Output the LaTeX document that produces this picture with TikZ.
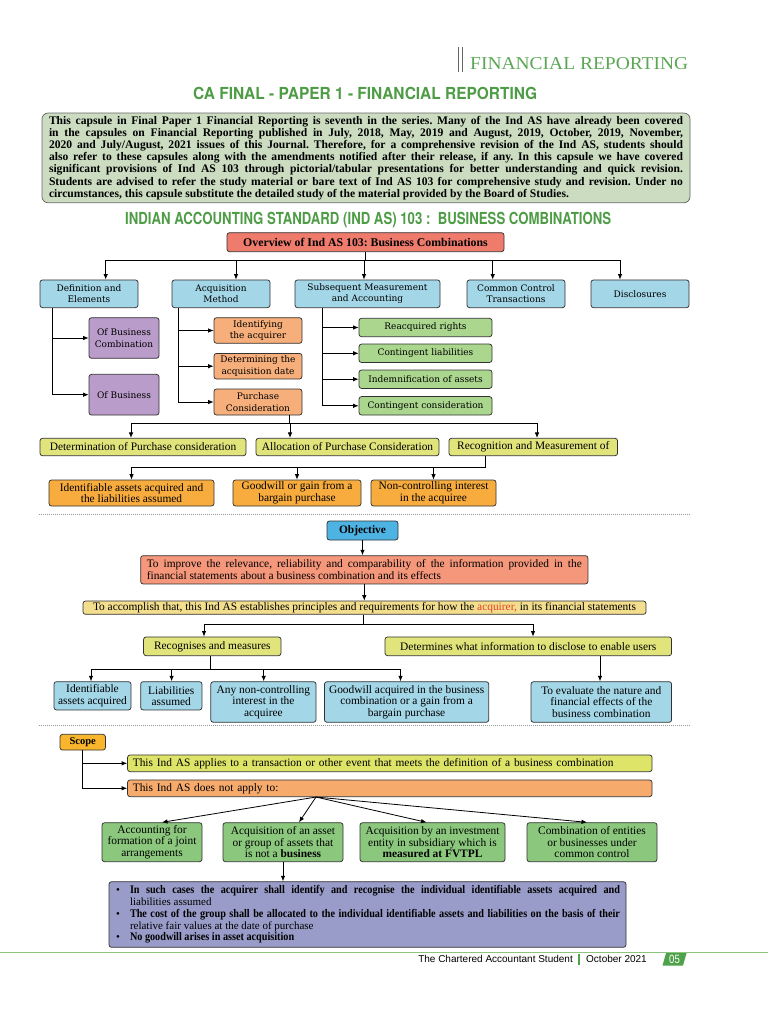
\documentclass[tikz,border=0pt]{standalone}
\usepackage{fontspec}
\usepackage{graphicx}
\setmainfont{Liberation Serif}
\newfontfamily\boxfont{DejaVu Serif}
\newfontfamily\headfont{TeX Gyre Heros}
\newfontfamily\footfont{Liberation Sans}
\newfontfamily\narrowserif[FakeStretch=0.88]{Liberation Serif}
\usetikzlibrary{arrows.meta}
\definecolor{ttgreen}{HTML}{4E9C46}
\definecolor{hdgreen}{HTML}{5BA755}
\definecolor{footgreen}{HTML}{8DC47D}
\definecolor{pagegreen}{HTML}{4EA24A}
\definecolor{introfill}{HTML}{CBDCC1}
\definecolor{ovrred}{HTML}{EF7B6C}
\definecolor{lblue}{HTML}{A3D6E7}
\definecolor{purp}{HTML}{B99CC9}
\definecolor{lorange}{HTML}{F6AE7B}
\definecolor{lgreen}{HTML}{AAD68E}
\definecolor{lyellow}{HTML}{E0E47B}
\definecolor{gorange}{HTML}{F8AC3E}
\definecolor{objblue}{HTML}{4DB3E2}
\definecolor{salmon}{HTML}{F5977B}
\definecolor{khaki}{HTML}{F2DE8D}
\definecolor{scopegold}{HTML}{F9B52C}
\definecolor{applylime}{HTML}{DDE468}
\definecolor{naorange}{HTML}{F6AB6D}
\definecolor{dgreen}{HTML}{8BC87D}
\definecolor{lavender}{HTML}{999CC8}
\definecolor{acqred}{HTML}{E8402A}
\tikzset{
  box/.style={draw=black!80, line width=0.75pt, rounded corners=2.5pt, inner sep=0pt, align=center, font=\fontsize{11.4}{11.7}\selectfont},
  tribox/.style={box, font=\fontsize{11.4}{11.3}\selectfont},
  topbox/.style={box, font=\boxfont\fontsize{9}{11.5}\selectfont},
  wh/.style 2 args={minimum width=#1, minimum height=#2},
  arr/.style={-{Latex[length=5.5pt,width=4.5pt]}, line width=0.8pt},
  sep/.style={black!40, line width=1pt, dash pattern=on 1pt off 1pt}
}
\frenchspacing
\begin{document}
\begin{tikzpicture}[x=1pt,y=-1pt]
\useasboundingbox (0,0) rectangle (768,1024);

\draw[black!60, line width=0.5pt] (458.3,47) -- (458.3,72) (462,47) -- (462,72);
\node[anchor=base west, inner sep=0pt, text=hdgreen] (hdr) at (470,69.3) {\resizebox{218pt}{12pt}{FINANCIAL REPORTING}};
\node[anchor=base west, inner sep=0pt, text=ttgreen] (catitle) at (193,100) {\headfont\bfseries\resizebox{344pt}{12.3pt}{CA FINAL - PAPER 1 - FINANCIAL REPORTING}};

\node[box, fill=introfill, draw=black!60, rounded corners=6pt, wh={648pt}{89.7pt}, text width=634pt, align=justify, font=\fontsize{11.6}{12.2}\selectfont\bfseries] (intro) at (366,157.9) {This capsule in Final Paper 1 Financial Reporting is seventh in the series. Many of the Ind AS have already been covered\linebreak in the capsules on Financial Reporting published in July, 2018, May, 2019 and August, 2019, October, 2019, November,\linebreak 2020 and July/August, 2021 issues of this Journal. Therefore, for a comprehensive revision of the Ind AS, students should\linebreak also refer to these capsules along with the amendments notified after their release, if any. In this capsule we have covered\linebreak significant provisions of Ind AS 103 through pictorial/tabular presentations for better understanding and quick revision.\linebreak Students are advised to refer the study material or bare text of Ind AS 103 for comprehensive study and revision. Under no\linebreak circumstances, this capsule substitute the detailed study of the material provided by the Board of Studies.};

\node[anchor=base west, inner sep=0pt, text=ttgreen] (istitle) at (125,224.5) {\headfont\bfseries\resizebox{486pt}{12.3pt}{INDIAN ACCOUNTING STANDARD (IND AS) 103 :\ \ BUSINESS COMBINATIONS}};

\node[box, fill=ovrred, wh={277pt}{19pt}, font=\fontsize{11.8}{12}\selectfont\bfseries] (ovr) at (365.5,242.2) {Overview of Ind AS 103: Business Combinations};

\node[topbox, fill=lblue, wh={98pt}{27.7pt}] (defel) at (89,293.8) {Definition and\\Elements};
\node[topbox, fill=lblue, wh={98pt}{27.7pt}] (acqm) at (221,293.8) {Acquisition\\Method};
\node[topbox, fill=lblue, wh={145pt}{27.7pt}] (subs) at (367.5,293.8) {Subsequent Measurement\\and Accounting};
\node[topbox, fill=lblue, wh={98pt}{27.7pt}] (comc) at (516,293.8) {Common Control\\Transactions};
\node[topbox, fill=lblue, wh={98pt}{27.7pt}] (discl) at (640,293.8) {Disclosures};
\foreach \t/\s in {defel/16.7, acqm/15, subs/-3.5, comc/-23.3, discl/-20}
  \draw[arr] (ovr.south) -- ++(0,8.3) -| ([xshift=\s]\t.north);

\node[topbox, fill=purp, wh={70pt}{40.6pt}] (ofbc) at (124,338) {Of Business\\Combination};
\node[topbox, fill=purp, wh={70pt}{40.7pt}] (ofb) at (124,394.7) {Of Business};
\draw[arr] ([xshift=13]defel.south west) |- (ofbc.west);
\draw[arr] ([xshift=13]defel.south west) |- (ofb.west);

\node[topbox, fill=lorange, wh={88pt}{25.6pt}] (ident) at (258,330.5) {Identifying\\the acquirer};
\node[topbox, fill=lorange, wh={88pt}{25.6pt}] (detdate) at (258,366.2) {Determining the\\acquisition date};
\node[topbox, fill=lorange, wh={88pt}{26pt}] (purch) at (258,402) {Purchase\\Consideration};
\foreach \t in {ident,detdate,purch}
  \draw[arr] ([xshift=7]acqm.south west) |- (\t.west);

\node[topbox, fill=lgreen, wh={133pt}{18.4pt}] (reacq) at (425.5,327.5) {Reacquired rights};
\node[topbox, fill=lgreen, wh={133pt}{18.4pt}] (contl) at (425.5,353.3) {Contingent liabilities};
\node[topbox, fill=lgreen, wh={133pt}{18.4pt}] (indem) at (425.5,379.2) {Indemnification of assets};
\node[topbox, fill=lgreen, wh={133pt}{18.4pt}] (contc) at (425.5,405.8) {Contingent consideration};
\foreach \t in {reacq,contl,indem,contc}
  \draw[arr] ([xshift=28]subs.south west) |- (\t.west);

\node[box, fill=lyellow, wh={206pt}{17.4pt}] (detpc) at (143,447) {Determination of Purchase consideration};
\node[box, fill=lyellow, wh={183pt}{17.4pt}] (allpc) at (347.5,447) {Allocation of Purchase Consideration};
\node[box, fill=lyellow, wh={168.6pt}{17.4pt}] (recm) at (533.3,447) {Recognition and Measurement of};
\foreach \t/\s in {detpc/-12, allpc/-57.5, recm/3.7}
  \draw[arr] ([xshift=31]purch.south) -- ++(0,8) -| ([xshift=\s]\t.north);

\node[box, fill=gorange, wh={165pt}{26pt}] (idas) at (131.5,493) {Identifiable assets acquired and\\the liabilities assumed};
\node[box, fill=gorange, wh={128pt}{26pt}] (gwb) at (297,493) {Goodwill or gain from a\\bargain purchase};
\node[box, fill=gorange, wh={125pt}{26pt}] (nci) at (433.5,493) {Non-controlling interest\\in the acquiree};
\foreach \t in {idas,gwb,nci}
  \draw[arr] ([xshift=-48.3]recm.south) -- ++(0,11.6) -| (\t.north);

\draw[sep] (39,514) -- (691,514);

\node[box, fill=objblue, wh={71pt}{19pt}, font=\fontsize{11.4}{12}\selectfont\bfseries] (obj) at (362.5,530.5) {Objective};
\node[box, fill=salmon, wh={447.3pt}{28.3pt}, text width=435pt, align=justify] (improve) at (364.3,569.8) {To improve the relevance, reliability and comparability of the information provided in the\linebreak financial statements about a business combination and its effects};
\draw[arr] (obj.south) -- (obj.south |- improve.north);
\node[box, fill=khaki, wh={563pt}{13.3pt}] (accomp) at (364.5,607.7) {To accomplish that, this Ind AS establishes principles and requirements for how the \textcolor{acqred}{acquirer,} in its financial statements};
\draw[arr] (improve.south) -- (improve.south |- accomp.north);

\node[box, fill=lyellow, wh={137.4pt}{18.7pt}] (recog) at (212.3,646.3) {Recognises and measures};
\node[box, fill=lyellow, wh={286.6pt}{18.7pt}] (determ) at (528.3,646.3) {Determines what information to disclose to enable users};
\draw[arr] ([xshift=-1.5]accomp.south) -- ++(0,9.7) -| ([xshift=-8.3]recog.north);
\draw[arr] ([xshift=-1.5]accomp.south) -- ++(0,9.7) -| ([xshift=4.7]determ.north);

\node[tribox, fill=lblue, wh={77pt}{28.3pt}] (idacq) at (92.5,695.8) {Identifiable\\assets acquired};
\node[tribox, fill=lblue, wh={61.3pt}{28.3pt}] (liab) at (171.3,695.8) {Liabilities\\assumed};
\node[tribox, fill=lblue, wh={105.2pt}{40.6pt}] (anynci) at (263.4,702) {Any non-controlling\\interest in the\\acquiree};
\node[tribox, fill=lblue, wh={164.2pt}{40.6pt}] (gwacq) at (406.6,702) {Goodwill acquired in the business\\combination or a gain from a\\bargain purchase};
\node[tribox, fill=lblue, wh={140.6pt}{40.6pt}] (toeval) at (601.3,702) {To evaluate the nature and\\financial effects of the\\business combination};
\foreach \t/\s in {idacq/-1.5, liab/0.3, anynci/0.3, gwacq/-6.1}
  \draw[arr] ([xshift=-2.3]recog.south) -- ++(0,13.3) -| ([xshift=\s]\t.north);
\draw[arr] ([xshift=71.7]determ.south) -- ([xshift=-1.3]toeval.north);

\draw[sep] (39,725.7) -- (691,725.7);

\node[box, fill=scopegold, wh={45.4pt}{15.7pt}, font=\fontsize{10.5}{11}\selectfont\bfseries] (scp) at (82.7,742.2) {Scope};
\node[box, fill=applylime, wh={524.5pt}{16.7pt}, text width=514pt, align=left] (applies) at (389.8,763.3) {This Ind AS applies to a transaction or other event that meets the definition of a business combination};
\node[box, fill=naorange, wh={524.5pt}{16.7pt}, text width=514pt, align=left] (notapp) at (389.8,788.3) {This Ind AS does not apply to:};
\draw[arr] (scp.south) |- (applies.west);
\draw[arr] (scp.south) |- (notapp.west);

\node[tribox, fill=dgreen, wh={100pt}{39pt}] (jarr) at (152,842.2) {Accounting for\\formation of a joint\\arrangements};
\node[tribox, fill=dgreen, wh={120pt}{39pt}] (asset) at (283,842.2) {Acquisition of an asset\\or group of assets that\\is not a \textbf{business}};
\node[tribox, fill=dgreen, wh={145pt}{39pt}] (invent) at (432.5,842.2) {Acquisition by an investment\\entity in subsidiary which is\\\textbf{measured at FVTPL}};
\node[tribox, fill=dgreen, wh={130pt}{39pt}] (comb) at (592,842.2) {Combination of entities\\or businesses under\\common control};
\foreach \t/\s in {jarr/10, asset/16, invent/-6, comb/-5}
  \draw[arr] ([xshift=-73.8]notapp.south) -- ([xshift=\s]\t.north);

\node[box, fill=lavender, wh={517pt}{65.6pt}, text width=505pt, align=justify, font=\fontsize{11}{11.8}\selectfont] (bullets) at (367.5,914.5) {%
\hangindent=15pt\hangafter=1\noindent\makebox[15pt][l]{\hspace{1pt}\textbullet}{\narrowserif\bfseries\fontsize{11.6}{11.8}\selectfont In such cases the acquirer shall identify and recognise the individual identifiable assets acquired and}\linebreak liabilities assumed\par
\hangindent=15pt\hangafter=1\noindent\makebox[15pt][l]{\hspace{1pt}\textbullet}{\narrowserif\bfseries\fontsize{11.6}{11.8}\selectfont The cost of the group shall be allocated to the individual identifiable assets and liabilities on the basis of their}\linebreak relative fair values at the date of purchase\par
\hangindent=15pt\hangafter=1\noindent\makebox[15pt][l]{\hspace{1pt}\textbullet}{\narrowserif\bfseries\fontsize{11.6}{11.8}\selectfont No goodwill arises in asset acquisition}\par};
\draw[arr] (asset.south) -- (asset.south |- bullets.north);

\draw[footgreen, line width=1.5pt] (0,952.5) -- (768,952.5);
\node[anchor=base east, inner sep=0pt, font=\footfont\fontsize{10}{11}\selectfont] (mag) at (573,962) {The Chartered Accountant Student};
\draw[pagegreen, line width=1.6pt] (579,953.5) -- (579,964.5);
\node[anchor=base west, inner sep=0pt, font=\footfont\fontsize{10}{11}\selectfont] (month) at (586,962) {October 2021};
\fill[pagegreen] (666,953.2) -- (686.5,953.2) -- (683,965.5) -- (662.5,965.5) -- cycle;
\node[text=white, inner sep=0pt, font=\footfont\fontsize{12}{12}\selectfont] (pgno) at (674.5,959.3) {\scalebox{0.8}[1]{05}};
\end{tikzpicture}
\end{document}
